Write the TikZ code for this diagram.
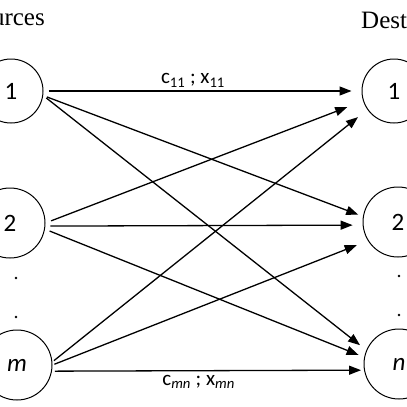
\documentclass[tikz,border=0pt]{standalone}
\usepackage{fontspec}
\setmainfont{Liberation Serif}
\newfontfamily\labelfont{Carlito}
\usetikzlibrary{arrows.meta}

\begin{document}
\begin{tikzpicture}[x=1pt, y=-1pt,
	site/.style={circle, draw, line width=1pt, minimum size=70pt, inner sep=0pt, font=\labelfont\fontsize{25}{25}\selectfont},
	small site/.style={site, minimum size=64pt},
	dot/.style={circle, fill=black, inner sep=0pt, minimum size=2.8pt},
	flow/.style={line width=1.3pt, -{Triangle[length=12pt, width=9pt]}},
	cost/.style={font=\labelfont\fontsize{21}{21}\selectfont}]
		\useasboundingbox (0,0) rectangle (407,407);
		% sources and destinations
		\node[small site] (s1) at (11,91) {1};
		\node[site] (s2) at (10,223) {2};
		\node[site] (sm) at (17,365) {\textit{m}};
		\node[small site] (d1) at (394,91) {1};
		\node[site] (d2) at (398,222) {2};
		\node[site] (dn) at (399,364) {\textit{n}};
		\node[anchor=base east, inner sep=0pt, font=\fontsize{25}{25}\selectfont] (src) at (45,25) {Sources};
		\node[anchor=base west, inner sep=0pt, font=\fontsize{25}{25}\selectfont] (dst) at (361,28) {Destinations};
		\node[dot] (sdot1) at (16,278) {};
		\node[dot] (sdot2) at (16,317) {};
		\node[dot] (ddot1) at (399,276) {};
		\node[dot] (ddot2) at (399,315) {};
		% routes
		\draw[flow, shorten <=5pt, shorten >=10pt] (s1.east) -- node[cost, pos=0.47, above=0pt] (c11) {c\textsubscript{11} ; x\textsubscript{11}} (d1.west);
		\foreach \from/\to/\sa/\sb in {s1.-8/d2.171/4/5, s1.-8/dn.157/4/8,
		  s2.east/d1.198/6/17, s2.-5/d2.185/5/10, s2.-10/dn.169/5/6,
		  sm.5/d1.215/2/12, sm.0/d2.212/2/12}{
		  \draw[flow, shorten <=\sa pt, shorten >=\sb pt] (\from) -- (\to);
		}
		\draw[flow, shorten <=3pt, shorten >=3pt] (sm.-10) -- node[cost, pos=0.47, below=1pt] (cmn) {c\textsubscript{\textit{mn}} ; x\textsubscript{\textit{mn}}} (dn.190);
	\end{tikzpicture}
\end{document}
